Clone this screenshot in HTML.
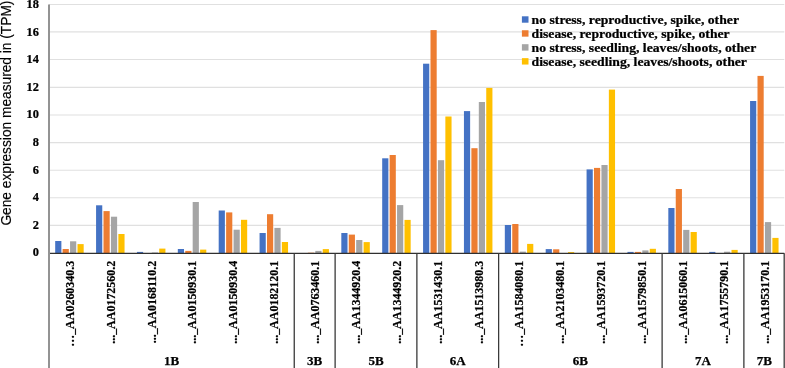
<!DOCTYPE html><html><head><meta charset="utf-8"><style>html,body{margin:0;padding:0;background:#fff;overflow:hidden}svg{display:block}.t{font-family:"Liberation Serif",serif;font-weight:bold;fill:#000;stroke:#000;stroke-width:0.25px}.s{font-family:"Liberation Sans",sans-serif;fill:#000;stroke:#000;stroke-width:0.15px}</style></head><body>
<svg width="785" height="368" viewBox="0 0 785 368">
<line x1="49.0" y1="225.40" x2="784.3" y2="225.40" stroke="#e0e0e0" stroke-width="1.1"/>
<line x1="49.0" y1="197.80" x2="784.3" y2="197.80" stroke="#e0e0e0" stroke-width="1.1"/>
<line x1="49.0" y1="170.20" x2="784.3" y2="170.20" stroke="#e0e0e0" stroke-width="1.1"/>
<line x1="49.0" y1="142.60" x2="784.3" y2="142.60" stroke="#e0e0e0" stroke-width="1.1"/>
<line x1="49.0" y1="115.00" x2="784.3" y2="115.00" stroke="#e0e0e0" stroke-width="1.1"/>
<line x1="49.0" y1="87.40" x2="784.3" y2="87.40" stroke="#e0e0e0" stroke-width="1.1"/>
<line x1="49.0" y1="59.50" x2="784.3" y2="59.50" stroke="#e0e0e0" stroke-width="1.1"/>
<line x1="49.0" y1="31.85" x2="784.3" y2="31.85" stroke="#e0e0e0" stroke-width="1.1"/>
<line x1="49.0" y1="4.50" x2="784.3" y2="4.50" stroke="#e0e0e0" stroke-width="1.1"/>
<rect x="55.19" y="241.00" width="6.19" height="12.30" fill="#4472C4"/>
<rect x="62.62" y="249.00" width="6.19" height="4.30" fill="#ED7D31"/>
<rect x="70.06" y="241.30" width="6.19" height="12.00" fill="#A5A5A5"/>
<rect x="77.49" y="244.10" width="6.19" height="9.20" fill="#FFC000"/>
<rect x="96.07" y="205.30" width="6.19" height="48.00" fill="#4472C4"/>
<rect x="103.50" y="211.10" width="6.19" height="42.20" fill="#ED7D31"/>
<rect x="110.93" y="216.70" width="6.19" height="36.60" fill="#A5A5A5"/>
<rect x="118.36" y="234.00" width="6.19" height="19.30" fill="#FFC000"/>
<rect x="136.94" y="251.90" width="6.19" height="1.40" fill="#4472C4"/>
<rect x="151.81" y="252.50" width="6.19" height="0.80" fill="#A5A5A5"/>
<rect x="159.24" y="248.60" width="6.19" height="4.70" fill="#FFC000"/>
<rect x="177.82" y="249.00" width="6.19" height="4.30" fill="#4472C4"/>
<rect x="185.25" y="250.90" width="6.19" height="2.40" fill="#ED7D31"/>
<rect x="192.68" y="202.00" width="6.19" height="51.30" fill="#A5A5A5"/>
<rect x="200.11" y="249.60" width="6.19" height="3.70" fill="#FFC000"/>
<rect x="218.69" y="210.50" width="6.19" height="42.80" fill="#4472C4"/>
<rect x="226.12" y="212.40" width="6.19" height="40.90" fill="#ED7D31"/>
<rect x="233.56" y="229.70" width="6.19" height="23.60" fill="#A5A5A5"/>
<rect x="240.99" y="219.80" width="6.19" height="33.50" fill="#FFC000"/>
<rect x="259.57" y="233.00" width="6.19" height="20.30" fill="#4472C4"/>
<rect x="267.00" y="214.20" width="6.19" height="39.10" fill="#ED7D31"/>
<rect x="274.43" y="227.90" width="6.19" height="25.40" fill="#A5A5A5"/>
<rect x="281.86" y="242.00" width="6.19" height="11.30" fill="#FFC000"/>
<rect x="307.88" y="252.70" width="6.19" height="0.60" fill="#ED7D31"/>
<rect x="315.31" y="250.90" width="6.19" height="2.40" fill="#A5A5A5"/>
<rect x="322.74" y="249.10" width="6.19" height="4.20" fill="#FFC000"/>
<rect x="341.32" y="233.00" width="6.19" height="20.30" fill="#4472C4"/>
<rect x="348.75" y="234.60" width="6.19" height="18.70" fill="#ED7D31"/>
<rect x="356.18" y="240.00" width="6.19" height="13.30" fill="#A5A5A5"/>
<rect x="363.61" y="242.10" width="6.19" height="11.20" fill="#FFC000"/>
<rect x="382.19" y="158.30" width="6.19" height="95.00" fill="#4472C4"/>
<rect x="389.62" y="155.00" width="6.19" height="98.30" fill="#ED7D31"/>
<rect x="397.06" y="205.10" width="6.19" height="48.20" fill="#A5A5A5"/>
<rect x="404.49" y="219.90" width="6.19" height="33.40" fill="#FFC000"/>
<rect x="423.07" y="63.70" width="6.19" height="189.60" fill="#4472C4"/>
<rect x="430.50" y="30.10" width="6.19" height="223.20" fill="#ED7D31"/>
<rect x="437.93" y="160.20" width="6.19" height="93.10" fill="#A5A5A5"/>
<rect x="445.36" y="116.50" width="6.19" height="136.80" fill="#FFC000"/>
<rect x="463.94" y="111.10" width="6.19" height="142.20" fill="#4472C4"/>
<rect x="471.38" y="148.20" width="6.19" height="105.10" fill="#ED7D31"/>
<rect x="478.81" y="102.00" width="6.19" height="151.30" fill="#A5A5A5"/>
<rect x="486.24" y="87.90" width="6.19" height="165.40" fill="#FFC000"/>
<rect x="504.82" y="225.00" width="6.19" height="28.30" fill="#4472C4"/>
<rect x="512.25" y="224.00" width="6.19" height="29.30" fill="#ED7D31"/>
<rect x="519.68" y="251.60" width="6.19" height="1.70" fill="#A5A5A5"/>
<rect x="527.11" y="243.90" width="6.19" height="9.40" fill="#FFC000"/>
<rect x="545.69" y="249.10" width="6.19" height="4.20" fill="#4472C4"/>
<rect x="553.12" y="249.30" width="6.19" height="4.00" fill="#ED7D31"/>
<rect x="567.99" y="252.10" width="6.19" height="1.20" fill="#FFC000"/>
<rect x="586.57" y="169.40" width="6.19" height="83.90" fill="#4472C4"/>
<rect x="594.00" y="167.90" width="6.19" height="85.40" fill="#ED7D31"/>
<rect x="601.43" y="165.00" width="6.19" height="88.30" fill="#A5A5A5"/>
<rect x="608.86" y="89.60" width="6.19" height="163.70" fill="#FFC000"/>
<rect x="627.44" y="251.90" width="6.19" height="1.40" fill="#4472C4"/>
<rect x="634.88" y="251.90" width="6.19" height="1.40" fill="#ED7D31"/>
<rect x="642.31" y="250.40" width="6.19" height="2.90" fill="#A5A5A5"/>
<rect x="649.74" y="248.80" width="6.19" height="4.50" fill="#FFC000"/>
<rect x="668.32" y="208.00" width="6.19" height="45.30" fill="#4472C4"/>
<rect x="675.75" y="189.00" width="6.19" height="64.30" fill="#ED7D31"/>
<rect x="683.18" y="229.90" width="6.19" height="23.40" fill="#A5A5A5"/>
<rect x="690.61" y="232.00" width="6.19" height="21.30" fill="#FFC000"/>
<rect x="709.19" y="251.90" width="6.19" height="1.40" fill="#4472C4"/>
<rect x="724.06" y="251.70" width="6.19" height="1.60" fill="#A5A5A5"/>
<rect x="731.49" y="249.90" width="6.19" height="3.40" fill="#FFC000"/>
<rect x="750.07" y="101.00" width="6.19" height="152.30" fill="#4472C4"/>
<rect x="757.50" y="75.90" width="6.19" height="177.40" fill="#ED7D31"/>
<rect x="764.93" y="222.10" width="6.19" height="31.20" fill="#A5A5A5"/>
<rect x="772.36" y="237.90" width="6.19" height="15.40" fill="#FFC000"/>
<line x1="49.0" y1="253.3" x2="784.3" y2="253.3" stroke="#303030" stroke-width="1.25"/>
<line x1="294.25" y1="253.3" x2="294.25" y2="368" stroke="#3a3a3a" stroke-width="1.3"/>
<line x1="335.12" y1="253.3" x2="335.12" y2="368" stroke="#3a3a3a" stroke-width="1.3"/>
<line x1="416.88" y1="253.3" x2="416.88" y2="368" stroke="#3a3a3a" stroke-width="1.3"/>
<line x1="498.62" y1="253.3" x2="498.62" y2="368" stroke="#3a3a3a" stroke-width="1.3"/>
<line x1="662.12" y1="253.3" x2="662.12" y2="368" stroke="#3a3a3a" stroke-width="1.3"/>
<line x1="743.88" y1="253.3" x2="743.88" y2="368" stroke="#3a3a3a" stroke-width="1.3"/>
<line x1="784.20" y1="253.3" x2="784.20" y2="368" stroke="#3a3a3a" stroke-width="1.3"/>
<line x1="49.0" y1="4.4" x2="49.0" y2="368" stroke="#939393" stroke-width="2"/>
<text class="t" font-size="13.3" text-anchor="end" transform="translate(38.9,256.30) scale(0.93,1)">0</text>
<text class="t" font-size="13.3" text-anchor="end" transform="translate(38.9,228.70) scale(0.93,1)">2</text>
<text class="t" font-size="13.3" text-anchor="end" transform="translate(38.9,201.10) scale(0.93,1)">4</text>
<text class="t" font-size="13.3" text-anchor="end" transform="translate(38.9,173.50) scale(0.93,1)">6</text>
<text class="t" font-size="13.3" text-anchor="end" transform="translate(38.9,145.90) scale(0.93,1)">8</text>
<text class="t" font-size="13.3" text-anchor="end" transform="translate(38.9,118.30) scale(0.93,1)">10</text>
<text class="t" font-size="13.3" text-anchor="end" transform="translate(38.9,90.70) scale(0.93,1)">12</text>
<text class="t" font-size="13.3" text-anchor="end" transform="translate(38.9,63.10) scale(0.93,1)">14</text>
<text class="t" font-size="13.3" text-anchor="end" transform="translate(38.9,35.50) scale(0.93,1)">16</text>
<text class="t" font-size="13.3" text-anchor="end" transform="translate(38.9,7.90) scale(0.93,1)">18</text>
<text class="s" font-size="14" textLength="225" lengthAdjust="spacingAndGlyphs" transform="translate(11,225.6) rotate(-90)">Gene expression measured in (TPM)</text>
<text class="t" font-size="13.5" text-anchor="end" transform="translate(73.84,260.7) rotate(-90) scale(0.888,1)">…_AA0260340.3</text>
<text class="t" font-size="13.5" text-anchor="end" transform="translate(114.71,260.7) rotate(-90) scale(0.888,1)">..._AA0172560.2</text>
<text class="t" font-size="13.5" text-anchor="end" transform="translate(155.59,260.7) rotate(-90) scale(0.888,1)">..._AA0168110.2</text>
<text class="t" font-size="13.5" text-anchor="end" transform="translate(196.46,260.7) rotate(-90) scale(0.888,1)">..._AA0150930.1</text>
<text class="t" font-size="13.5" text-anchor="end" transform="translate(237.34,260.7) rotate(-90) scale(0.888,1)">..._AA0150930.4</text>
<text class="t" font-size="13.5" text-anchor="end" transform="translate(278.21,260.7) rotate(-90) scale(0.888,1)">..._AA0182120.1</text>
<text class="t" font-size="13.5" text-anchor="end" transform="translate(319.09,260.7) rotate(-90) scale(0.888,1)">..._AA0763460.1</text>
<text class="t" font-size="13.5" text-anchor="end" transform="translate(359.96,260.7) rotate(-90) scale(0.888,1)">..._AA1344920.4</text>
<text class="t" font-size="13.5" text-anchor="end" transform="translate(400.84,260.7) rotate(-90) scale(0.888,1)">..._AA1344920.2</text>
<text class="t" font-size="13.5" text-anchor="end" transform="translate(441.71,260.7) rotate(-90) scale(0.888,1)">..._AA1531430.1</text>
<text class="t" font-size="13.5" text-anchor="end" transform="translate(482.59,260.7) rotate(-90) scale(0.888,1)">..._AA1513980.3</text>
<text class="t" font-size="13.5" text-anchor="end" transform="translate(523.46,260.7) rotate(-90) scale(0.888,1)">…_AA1584080.1</text>
<text class="t" font-size="13.5" text-anchor="end" transform="translate(564.34,260.7) rotate(-90) scale(0.888,1)">..._AA2103480.1</text>
<text class="t" font-size="13.5" text-anchor="end" transform="translate(605.21,260.7) rotate(-90) scale(0.888,1)">..._AA1593720.1</text>
<text class="t" font-size="13.5" text-anchor="end" transform="translate(646.09,260.7) rotate(-90) scale(0.888,1)">..._AA1579850.1</text>
<text class="t" font-size="13.5" text-anchor="end" transform="translate(686.96,260.7) rotate(-90) scale(0.888,1)">..._AA0615060.1</text>
<text class="t" font-size="13.5" text-anchor="end" transform="translate(727.84,260.7) rotate(-90) scale(0.888,1)">..._AA1755790.1</text>
<text class="t" font-size="13.5" text-anchor="end" transform="translate(768.71,260.7) rotate(-90) scale(0.888,1)">..._AA1953170.1</text>
<text class="t" font-size="13" text-anchor="middle" x="171.62" y="365">1B</text>
<text class="t" font-size="13" text-anchor="middle" x="314.69" y="365">3B</text>
<text class="t" font-size="13" text-anchor="middle" x="376.00" y="365">5B</text>
<text class="t" font-size="13" text-anchor="middle" x="457.75" y="365">6A</text>
<text class="t" font-size="13" text-anchor="middle" x="580.38" y="365">6B</text>
<text class="t" font-size="13" text-anchor="middle" x="703.00" y="365">7A</text>
<text class="t" font-size="13" text-anchor="middle" x="764.31" y="365">7B</text>
<rect x="521.9" y="16.30" width="6.6" height="6.4" fill="#4472C4"/>
<text class="t" font-size="13.7" transform="translate(531.6,23.95) scale(1,0.95)">no stress, reproductive, spike, other</text>
<rect x="521.9" y="30.25" width="6.6" height="6.4" fill="#ED7D31"/>
<text class="t" font-size="13.7" transform="translate(531.6,37.85) scale(1,0.95)">disease, reproductive, spike, other</text>
<rect x="521.9" y="44.20" width="6.6" height="6.4" fill="#A5A5A5"/>
<text class="t" font-size="13.7" transform="translate(531.6,51.75) scale(1,0.95)">no stress, seedling, leaves/shoots, other</text>
<rect x="521.9" y="58.15" width="6.6" height="6.4" fill="#FFC000"/>
<text class="t" font-size="13.7" transform="translate(531.6,65.65) scale(1,0.95)">disease, seedling, leaves/shoots, other</text>
</svg></body></html>
